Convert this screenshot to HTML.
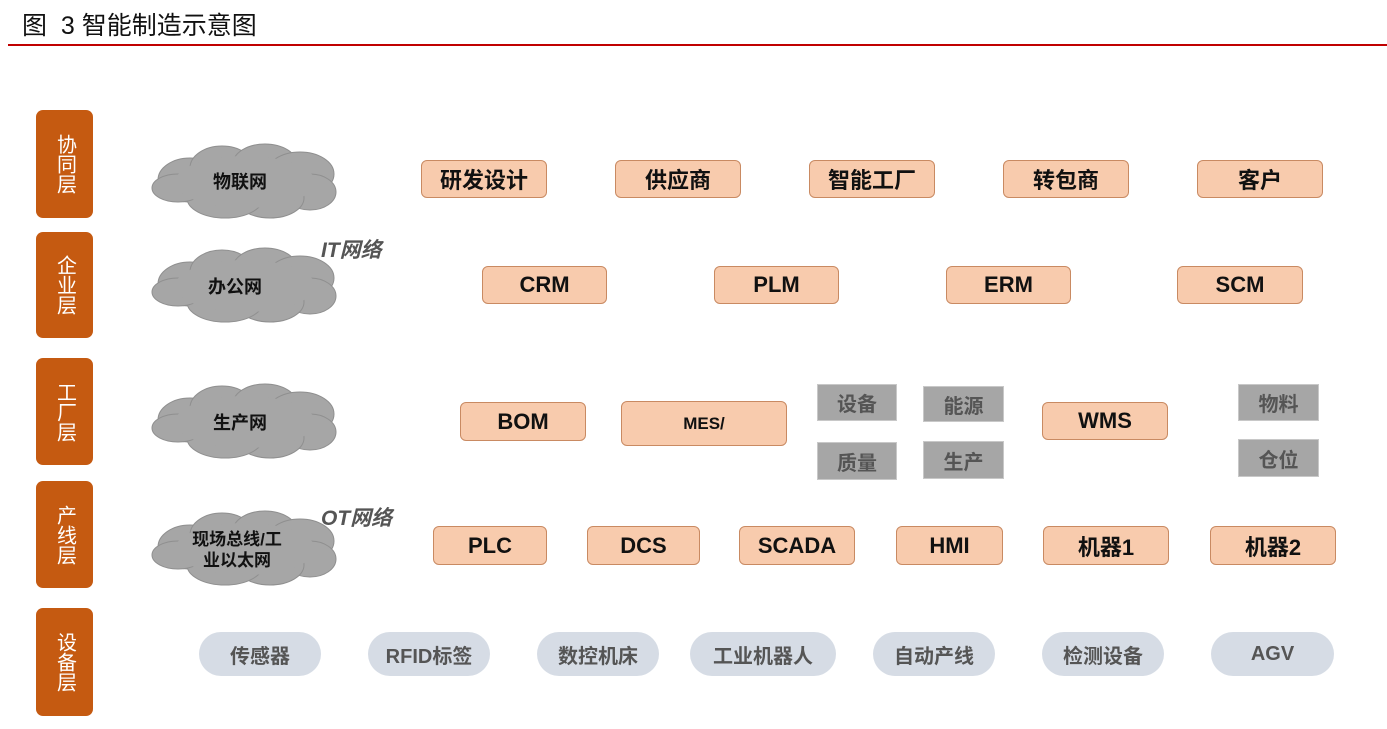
<!DOCTYPE html>
<html><head><meta charset="utf-8"><style>
body{margin:0;width:1387px;height:729px;background:#fff;position:relative;overflow:hidden;font-family:"Liberation Sans","Noto Sans CJK SC",sans-serif}
.a{position:absolute;box-sizing:border-box;display:flex;align-items:center;justify-content:center;text-align:center}
.L{background:#c55a11;color:#fff;border-radius:7px;font-size:20px;line-height:22px;width:57px;writing-mode:vertical-rl}
.o{background:#f8cbad;border:1.5px solid #c98a62;border-radius:6px;font-size:22px;color:#111;font-weight:bold}
.g{background:#a6a6a6;border:1px solid #c8c8c8;font-size:20px;color:#555;font-weight:bold}
.p{background:#d6dce5;border-radius:22px;font-size:20px;color:#555;height:44px;top:632px;font-weight:bold}
.c{position:absolute;width:190px;height:82px}
.ct{position:absolute;width:190px;text-align:center;font-size:18px;color:#111;font-weight:bold}
.it{position:absolute;font-style:italic;font-size:21px;color:#555;font-weight:bold}
</style></head><body>
<div style="position:absolute;left:22px;top:6px;font-size:25px;color:#111">图&nbsp; 3 智能制造示意图</div>
<div style="position:absolute;left:8px;top:44px;width:1379px;height:2px;background:#c00000"></div>

<div class="a L" style="left:36px;top:110px;height:108px">协同层</div>
<div class="a L" style="left:36px;top:232px;height:106px">企业层</div>
<div class="a L" style="left:36px;top:358px;height:107px">工厂层</div>
<div class="a L" style="left:36px;top:481px;height:107px">产线层</div>
<div class="a L" style="left:36px;top:608px;height:108px">设备层</div>

<svg width="0" height="0" style="position:absolute"><defs><g id="cl" fill="#a6a6a6" stroke="#8f8f8f" stroke-width="1">
<ellipse cx="40" cy="40" rx="32" ry="22"/><ellipse cx="72" cy="28" rx="32" ry="22"/><ellipse cx="115" cy="24" rx="32" ry="20"/><ellipse cx="150" cy="34" rx="34" ry="22"/><ellipse cx="160" cy="52" rx="26" ry="18"/><ellipse cx="120" cy="58" rx="34" ry="20"/><ellipse cx="75" cy="58" rx="38" ry="20"/><ellipse cx="28" cy="48" rx="26" ry="14"/>
<ellipse cx="95" cy="42" rx="70" ry="26" stroke="none"/></g></defs></svg>
<svg class="c" style="left:150px;top:140px" viewBox="0 0 190 82"><use href="#cl"/></svg>
<div class="ct" style="left:145px;top:168px">物联网</div>
<svg class="c" style="left:150px;top:244px" viewBox="0 0 190 82"><use href="#cl"/></svg>
<div class="ct" style="left:140px;top:273px">办公网</div>
<svg class="c" style="left:150px;top:380px" viewBox="0 0 190 82"><use href="#cl"/></svg>
<div class="ct" style="left:145px;top:409px">生产网</div>
<svg class="c" style="left:150px;top:507px" viewBox="0 0 190 82"><use href="#cl"/></svg>
<div class="ct" style="left:142px;top:529px;font-size:17px;line-height:21px">现场总线/工<br>业以太网</div>
<div class="it" style="left:321px;top:234px">IT网络</div>
<div class="it" style="left:321px;top:502px">OT网络</div>

<div class="a o" style="left:421px;top:160px;width:126px;height:38px">研发设计</div>
<div class="a o" style="left:615px;top:160px;width:126px;height:38px">供应商</div>
<div class="a o" style="left:809px;top:160px;width:126px;height:38px">智能工厂</div>
<div class="a o" style="left:1003px;top:160px;width:126px;height:38px">转包商</div>
<div class="a o" style="left:1197px;top:160px;width:126px;height:38px">客户</div>

<div class="a o" style="left:482px;top:266px;width:125px;height:38px">CRM</div>
<div class="a o" style="left:714px;top:266px;width:125px;height:38px">PLM</div>
<div class="a o" style="left:946px;top:266px;width:125px;height:38px">ERM</div>
<div class="a o" style="left:1177px;top:266px;width:126px;height:38px">SCM</div>

<div class="a o" style="left:460px;top:402px;width:126px;height:39px">BOM</div>
<div class="a o" style="left:621px;top:401px;width:166px;height:45px;font-size:17px">MES/</div>
<div class="a o" style="left:1042px;top:402px;width:126px;height:38px">WMS</div>
<div class="a g" style="left:817px;top:384px;width:80px;height:37px">设备</div>
<div class="a g" style="left:923px;top:386px;width:81px;height:36px">能源</div>
<div class="a g" style="left:817px;top:442px;width:80px;height:38px">质量</div>
<div class="a g" style="left:923px;top:441px;width:81px;height:38px">生产</div>
<div class="a g" style="left:1238px;top:384px;width:81px;height:37px">物料</div>
<div class="a g" style="left:1238px;top:439px;width:81px;height:38px">仓位</div>

<div class="a o" style="left:433px;top:526px;width:114px;height:39px">PLC</div>
<div class="a o" style="left:587px;top:526px;width:113px;height:39px">DCS</div>
<div class="a o" style="left:739px;top:526px;width:116px;height:39px">SCADA</div>
<div class="a o" style="left:896px;top:526px;width:107px;height:39px">HMI</div>
<div class="a o" style="left:1043px;top:526px;width:126px;height:39px">机器1</div>
<div class="a o" style="left:1210px;top:526px;width:126px;height:39px">机器2</div>

<div class="a p" style="left:199px;width:122px">传感器</div>
<div class="a p" style="left:368px;width:122px">RFID标签</div>
<div class="a p" style="left:537px;width:122px">数控机床</div>
<div class="a p" style="left:690px;width:146px">工业机器人</div>
<div class="a p" style="left:873px;width:122px">自动产线</div>
<div class="a p" style="left:1042px;width:122px">检测设备</div>
<div class="a p" style="left:1211px;width:123px">AGV</div>
</body></html>
